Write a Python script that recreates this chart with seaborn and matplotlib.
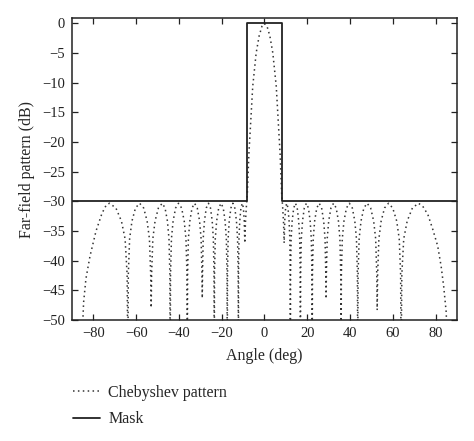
import matplotlib
matplotlib.use("Agg")
import matplotlib.pyplot as plt
import seaborn as sns
import pandas as pd

# Chebyshev pattern (angle in deg, level in dB)
cheb_angle = [
    -85.6, -84.6, -83.5, -81.6, -78.8, -76.0, -74.0, -72.5, -69.49, -66.91, -65.19, -64.24, -63.9,
    -63.68, -63.08, -61.98, -60.33, -58.4, -56.51, -54.89, -53.81, -53.22, -53.0,
    -52.79, -52.22, -51.18, -49.62, -47.8, -46.51, -45.40, -44.66, -44.25, -44.1,
    -43.94, -43.52, -42.74, -41.57, -40.2, -38.77, -37.54, -36.72, -36.26, -36.1,
    -35.96, -35.59, -34.91, -33.89, -32.7, -31.44, -30.36, -29.64, -29.24, -29.1,
    -28.98, -28.67, -28.09, -27.22, -26.2, -25.26, -24.45, -23.91, -23.61, -23.5,
    -23.37, -23.02, -22.38, -21.42, -20.3, -19.29, -18.42, -17.84, -17.52, -17.4,
    -17.30, -17.01, -16.49, -15.71, -14.8, -13.89, -13.11, -12.59, -12.30, -12.2,
    -12.13, -11.93, -11.57, -11.03, -10.4, -9.9, -9.5, -9.2,
    -8.9, -8.5, -8.0, -7.3, -6.5, -5.5, -3.9, -2.5, -1.2, 0.0,
    1.2, 2.5, 3.9, 5.5, 6.5, 7.3, 8.0, 8.5, 8.9, 9.2,
    9.5, 9.9, 10.4, 10.995, 11.505, 11.845, 12.032, 12.1,
    12.196, 12.46, 12.94, 13.66, 14.5, 15.305, 15.995, 16.455, 16.708, 16.8,
    16.912, 17.22, 17.78, 18.62, 19.6, 20.545, 21.355, 21.895, 22.192, 22.3,
    22.432, 22.795, 23.455, 24.445, 25.6, 26.72, 27.68, 28.32, 28.672, 28.8,
    28.94, 29.325, 30.025, 31.075, 32.3, 33.525, 34.575, 35.275, 35.66, 35.8,
    35.956, 36.385, 37.165, 38.335, 39.7, 41.065, 42.235, 43.015, 43.444, 43.6,
    43.776, 44.26, 45.14, 46.46, 48.0, 49.645, 51.055, 51.995, 52.512, 52.7,
    52.912, 53.495, 54.555, 56.145, 58.0, 59.965, 61.835, 63.015, 63.664, 63.9,
    64.224, 65.115, 66.735, 69.165, 72.0, 74.0, 76.4, 78.7, 81.0, 82.6, 83.8, 85.0, 85.5,
]
cheb_db = [
    -56, -47, -43, -39.2, -35, -32, -30.6, -30.3, -31.1, -33.3, -36.3, -42.3, -58,
    -42.3, -36.3, -33.3, -31.1, -30.3, -31.1, -33.3, -36.3, -42.3, -47.9,
    -42.3, -36.3, -33.3, -31.1, -30.3, -31.1, -33.3, -36.3, -42.3, -58,
    -42.3, -36.3, -33.3, -31.1, -30.3, -31.1, -33.3, -36.3, -42.3, -58,
    -42.3, -36.3, -33.3, -31.1, -30.3, -31.1, -33.3, -36.3, -42.3, -46.3,
    -42.3, -36.3, -33.3, -31.1, -30.3, -31.1, -33.3, -36.3, -42.3, -58,
    -42.3, -36.3, -33.3, -31.1, -30.3, -31.1, -33.3, -36.3, -42.3, -58,
    -42.3, -36.3, -33.3, -31.1, -30.3, -31.1, -33.3, -36.3, -42.3, -58,
    -42.3, -36.3, -33.3, -31.1, -30.3, -31.0, -33.0, -37.0,
    -33.5, -31.0, -28.5, -22.0, -17.0, -10.6, -5.0, -2.1, -0.5, 0.0,
    -0.5, -2.1, -5.0, -10.6, -17.0, -22.0, -28.5, -31.0, -33.5, -37.0,
    -33.0, -31.0, -30.3, -31.1, -33.3, -36.3, -42.3, -58,
    -42.3, -36.3, -33.3, -31.1, -30.3, -31.1, -33.3, -36.3, -42.3, -58,
    -42.3, -36.3, -33.3, -31.1, -30.3, -31.1, -33.3, -36.3, -42.3, -58,
    -42.3, -36.3, -33.3, -31.1, -30.3, -31.1, -33.3, -36.3, -42.3, -46.4,
    -42.3, -36.3, -33.3, -31.1, -30.3, -31.1, -33.3, -36.3, -42.3, -58,
    -42.3, -36.3, -33.3, -31.1, -30.3, -31.1, -33.3, -36.3, -42.3, -58,
    -42.3, -36.3, -33.3, -31.1, -30.3, -31.1, -33.3, -36.3, -42.3, -48.3,
    -42.3, -36.3, -33.3, -31.1, -30.3, -31.1, -33.3, -36.3, -42.3, -58,
    -42.3, -36.3, -33.3, -31.1, -30.3, -30.8, -32.2, -34.7, -37.5, -40.9, -44.3, -48.7, -56,
]

# Mask
mask_angle = [-90, -8, -8, 8, 8, 90]
mask_db = [-30, -30, 0, 0, -30, -30]

x_ticks = [-80, -60, -40, -20, 0, 20, 40, 60, 80]
y_ticks = [0, -5, -10, -15, -20, -25, -30, -35, -40, -45, -50]

sns.set_style("ticks")
plt.rcParams["font.family"] = ["Liberation Serif", "DejaVu Serif"]
plt.rcParams["font.size"] = 10.5
plt.rcParams["axes.unicode_minus"] = True

cheb_df = pd.DataFrame({"Angle": cheb_angle, "dB": cheb_db})
mask_df = pd.DataFrame({"Angle": mask_angle, "dB": mask_db})

fig = plt.figure(figsize=(4.74, 4.41), dpi=100)
ax = fig.add_axes([0.152, 0.274, 0.812, 0.685])

sns.lineplot(data=cheb_df, x="Angle", y="dB", ax=ax, color="#333333",
             linestyle=(0, (1.0, 2.2)), linewidth=1.1, estimator=None, sort=False,
             label="Chebyshev pattern")
sns.lineplot(data=mask_df, x="Angle", y="dB", ax=ax, color="#222222",
             linewidth=1.3, estimator=None, sort=False, label="Mask")

ax.set_xlim(-90, 90)
ax.set_ylim(-50, 0.9)
ax.set_xticks(x_ticks)
ax.set_yticks(y_ticks)
ax.set_xlabel("Angle (deg)", fontsize=11.5, labelpad=6)
ax.set_ylabel("Far-field pattern (dB)", fontsize=11.5, labelpad=5)
ax.tick_params(direction="in", top=True, right=True, length=4, width=0.9,
               labelsize=10.5, colors="#222222", pad=5)
for s in ax.spines.values():
    s.set_linewidth(1.1)
    s.set_color("#222222")

leg = ax.legend(loc="upper left", bbox_to_anchor=(0.153, 0.127),
                bbox_transform=fig.transFigure, frameon=False, fontsize=11.5,
                handlelength=1.7, handletextpad=0.55, labelspacing=0.65,
                borderaxespad=0, borderpad=0)

fig.savefig("out.png", dpi=100)
